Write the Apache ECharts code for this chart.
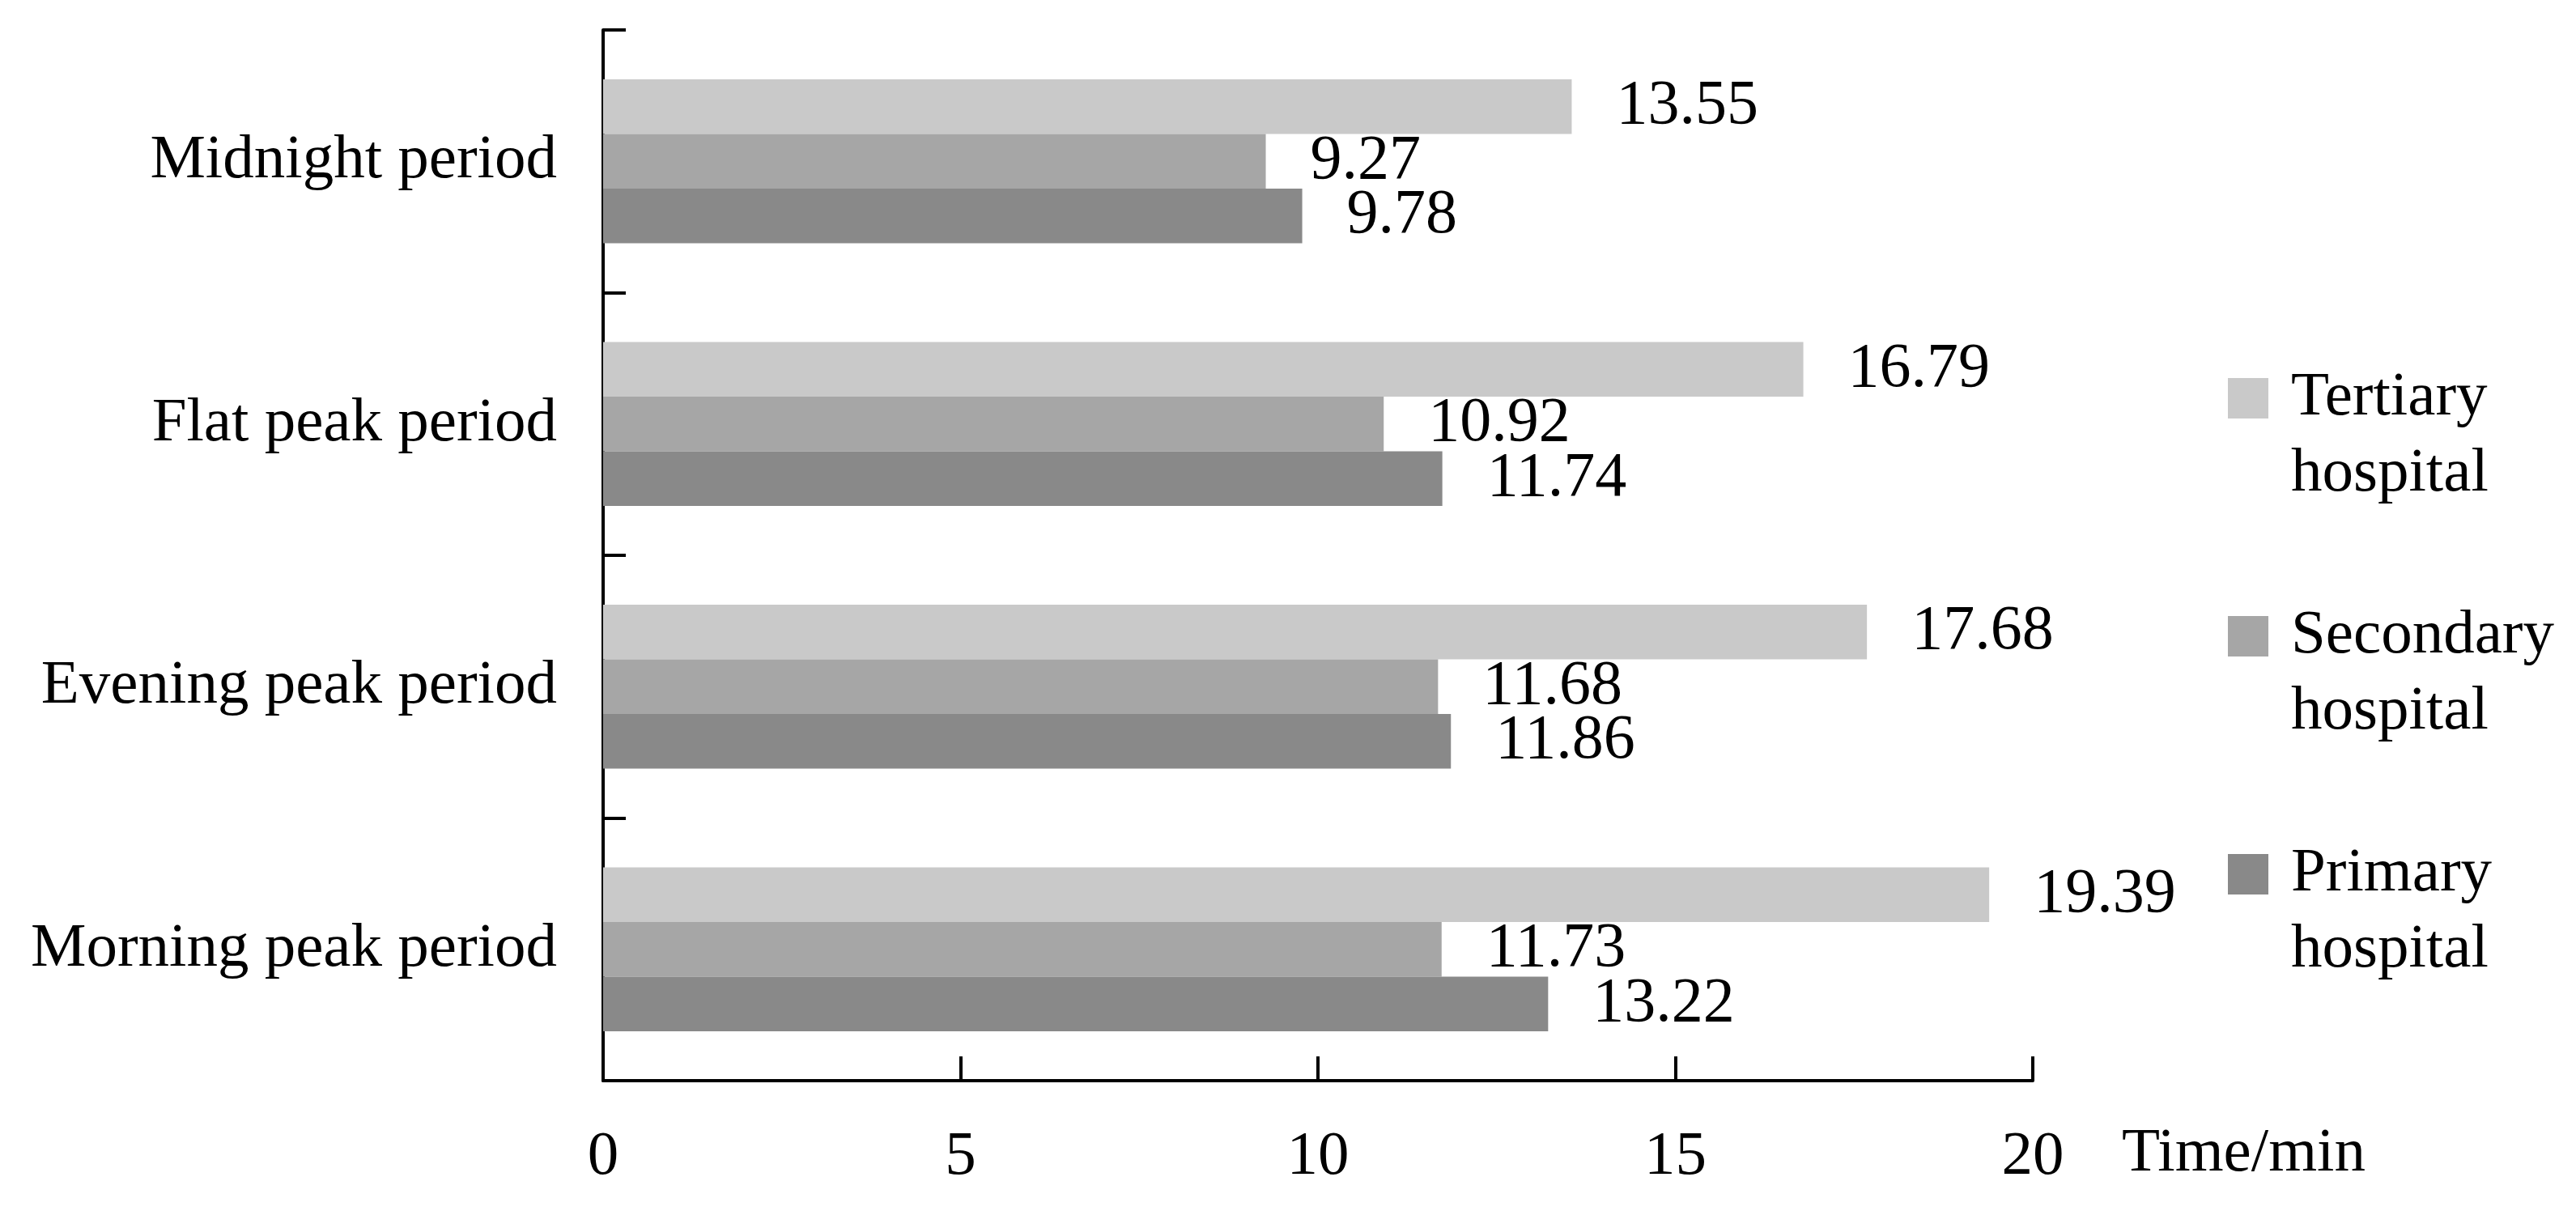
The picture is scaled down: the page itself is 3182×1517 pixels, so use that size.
<!DOCTYPE html>
<html>
<head>
<meta charset="utf-8">
<script src="https://cdn.jsdelivr.net/npm/echarts@6/dist/echarts.min.js"></script>
<style>
html,body{margin:0;padding:0;background:#fff;}
#chart{width:3182px;height:1517px;}
</style>
</head>
<body>
<div id="chart"></div>
<script>
const categories = ['Midnight period', 'Flat peak period', 'Evening peak period', 'Morning peak period'];
const seriesNames = ['Tertiary hospital', 'Secondary hospital', 'Primary hospital'];
const tertiary = [13.55, 16.79, 17.68, 19.39];
const secondary = [9.27, 10.92, 11.68, 11.73];
const primary = [9.78, 11.74, 11.86, 13.22];
const xTicks = [0, 5, 10, 15, 20];

const FONT = '"Liberation Serif", "Times New Roman", serif';
const colors = ['#c9c9c9', '#a6a6a6', '#898989'];
const values = [tertiary, secondary, primary];

const chart = echarts.init(document.getElementById('chart'));
chart.setOption({
  backgroundColor: '#ffffff',
  animation: false,
  grid: { left: 745, right: 671, top: 37, bottom: 151, containLabel: false },
  legend: {
    orient: 'vertical',
    left: 2752,
    top: 351,
    padding: 0,
    itemGap: 12,
    itemWidth: 50,
    itemHeight: 50,
    icon: 'rect',
    formatter: function (name) {
      const parts = name.split(' ');
      return '\n{t|' + parts[0] + '}\n{t|' + parts[1] + '}';
    },
    textStyle: {
      fontFamily: FONT, fontSize: 77, lineHeight: 94, color: '#000',
      rich: { t: { fontFamily: FONT, fontSize: 77, lineHeight: 94, color: '#000', padding: [0, 0, 0, 23] } }
    },
    data: seriesNames
  },
  xAxis: {
    type: 'value',
    min: xTicks[0],
    max: xTicks[xTicks.length - 1],
    interval: 5,
    name: 'Time/min',
    nameLocation: 'end',
    nameGap: 110,
    nameTextStyle: { fontFamily: FONT, fontSize: 77, color: '#000', verticalAlign: 'top', lineHeight: 182, align: 'left' },
    axisLine: { show: true, lineStyle: { color: '#000', width: 4 } },
    axisTick: { show: true, inside: true, length: 30, lineStyle: { color: '#000', width: 4 } },
    axisLabel: { fontFamily: FONT, fontSize: 77, color: '#000', margin: 56 },
    splitLine: { show: false }
  },
  yAxis: {
    type: 'category',
    inverse: true,
    data: categories,
    axisLine: { show: true, lineStyle: { color: '#000', width: 4 } },
    axisTick: { show: true, inside: true, length: 28, alignWithLabel: false, lineStyle: { color: '#000', width: 4 } },
    axisLabel: { fontFamily: FONT, fontSize: 77, color: '#000', margin: 57 },
    splitLine: { show: false }
  },
  series: seriesNames.map(function (n, i) {
    return {
      name: n,
      type: 'bar',
      data: values[i],
      barGap: '0%',
      barCategoryGap: '37.6%',
      itemStyle: { color: colors[i] },
      label: {
        show: true,
        position: 'right',
        distance: 55,
        fontFamily: FONT,
        fontSize: 78,
        color: '#000',
        formatter: function (p) { return p.value.toFixed(2); }
      }
    };
  })
});
</script>
</body>
</html>
